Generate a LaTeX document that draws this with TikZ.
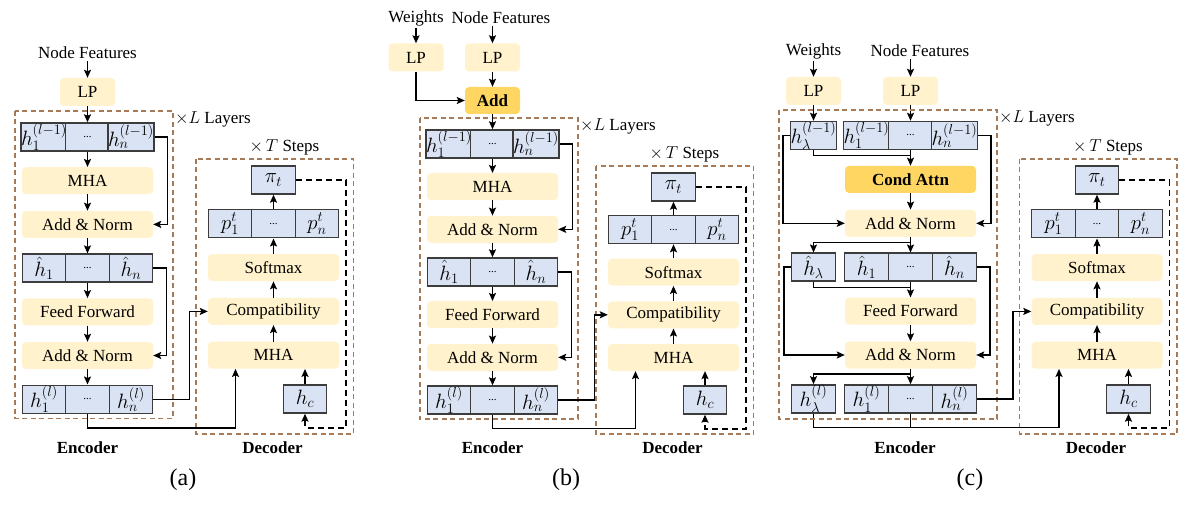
\documentclass[tikz,border=0pt]{standalone}
\usepackage{amsmath}
\usepackage{fontspec}
\setmainfont{Liberation Serif}
\usepackage{tikz}
\usetikzlibrary{calc}
\usetikzlibrary{arrows.meta}
\usetikzlibrary{positioning}
\definecolor{cellFill}{RGB}{218,227,243}
\definecolor{cellLine}{RGB}{60,60,60}
\definecolor{opFill}{RGB}{255,242,204}
\definecolor{keyFill}{RGB}{255,214,98}
\definecolor{frameCol}{RGB}{166,122,86}
\newcommand{\cellDots}{{\fontsize{11}{12}\selectfont ...}}
\tikzset{
    cellBox/.style={
        ,   draw=cellLine
        ,   fill=cellFill
        ,   line width=1.4pt
        ,   minimum width=43.5pt
        ,   minimum height=28pt
        ,   inner sep=0pt
        ,   font=\fontsize{19.5}{22}\selectfont
    },
    opBox/.style={
        ,   fill=opFill
        ,   rounded corners=4pt
        ,   minimum width=131pt
        ,   minimum height=27pt
        ,   inner sep=0pt
    },
    keyBox/.style={
        ,   opBox
        ,   fill=keyFill
        ,   font=\fontsize{17}{20}\selectfont\bfseries
    },
    lpBox/.style={
        ,   opBox
        ,   minimum width=55pt
        ,   minimum height=28pt
    },
    flow/.style={
        ,   line width=1.4pt
        ,   -{Stealth[length=8pt,width=7pt,inset=1.5pt]}
    },
    link/.style={line width=1.4pt},
    loopBack/.style={
        ,   flow
        ,   dash pattern=on 6pt off 4pt
        ,   line width=1.6pt
    },
    frameLine/.style={
        ,   draw=frameCol
        ,   line width=1.3pt
        ,   dash pattern=on 5pt off 3.5pt
    },
    stackLabel/.style={anchor=west, inner sep=1pt},
    partLabel/.style={font=\fontsize{17}{20}\selectfont\bfseries},
    capLabel/.style={font=\fontsize{24}{28}\selectfont},
}

\begin{document}
\begin{tikzpicture}[x=1pt, y=-1pt, inner sep=2pt, font=\fontsize{17}{20}\selectfont]
\useasboundingbox (0,0) rectangle (1192,505);

% encoders of (a) and (b)
\foreach \pan/\dx/\yy/\st in {a/0/137/43.7, b/405/144/42.67}{
  \foreach \row/\kk/\ta/\tb in {H/0/{$h_1^{(l-1)}$}/{$h_n^{(l-1)}$}, G/3/{$\hat{h}_1$}/{$\hat{h}_n$}, L/6/{$h_1^{(l)}$}/{$h_n^{(l)}$}}{
    \node[cellBox] (\pan\row 1) at (44+\dx,\yy+\kk*\st) {\ta};
    \node[cellBox] (\pan\row d) at (87.5+\dx,\yy+\kk*\st) {\cellDots};
    \node[cellBox] (\pan\row n) at (131+\dx,\yy+\kk*\st) {\tb};
  }
  \node[opBox] (\pan MHA) at (87.5+\dx,\yy+\st) {MHA};
  \node[opBox] (\pan ANa) at (87.5+\dx,\yy+2*\st) {Add \& Norm};
  \node[opBox] (\pan FF) at (87.5+\dx,\yy+4*\st) {Feed Forward};
  \node[opBox] (\pan ANb) at (87.5+\dx,\yy+5*\st) {Add \& Norm};
  \draw[flow] (\pan Hd) -- (\pan MHA);
  \draw[flow] (\pan MHA) -- (\pan ANa);
  \draw[flow] (\pan ANa) -- (\pan Gd);
  \draw[flow] (\pan Gd) -- (\pan FF);
  \draw[flow] (\pan FF) -- (\pan ANb);
  \draw[flow] (\pan ANb) -- (\pan Ld);
  \draw[flow] (\pan Hn.east) -- ++(13,0) |- (\pan ANa.east);
  \draw[flow] (\pan Gn.east) -- ++(13,0) |- (\pan ANb.east);
  \draw[frameLine] (15+\dx,\yy-26) rectangle (173+\dx,\yy+6*\st+19);
  \node[stackLabel] (\pan Lx) at (174+\dx,\yy-17.5) {$\times L$ Layers};
  \node[partLabel] (\pan Enc) at (87.5+\dx,448) {Encoder};
}

% inputs of (a)
\node (aNF) at (87.5,53) {Node Features};
\node[lpBox] (aLP) at (87.5,92) {LP};
\draw[flow] (aNF) -- (aLP);
\draw[flow] (aLP) -- (aHd);

% inputs of (b)
\node (bW) at (416,18) {Weights};
\node (bNF) at (501,18) {Node Features};
\node[lpBox] (bLPw) at (416,57.5) {LP};
\node[lpBox] (bLPn) at (492.5,57.5) {LP};
\node[keyBox, minimum width=55pt] (bAdd) at (492.5,100.5) {Add};
\draw[flow] (bW) -- (bLPw);
\draw[flow] (bNF.south -| bLPn.north) -- (bLPn);
\draw[flow] (bLPn) -- (bAdd);
\draw[flow] (bLPw) |- (bAdd);
\draw[flow] (bAdd) -- (bHd);

% encoder of (c), with the weight token h_lambda
\foreach \row/\kk/\tl/\ta/\tb in {H/0/{$h_\lambda^{(l-1)}$}/{$h_1^{(l-1)}$}/{$h_n^{(l-1)}$}, G/3/{$\hat{h}_\lambda$}/{$\hat{h}_1$}/{$\hat{h}_n$}, L/6/{$h_\lambda^{(l)}$}/{$h_1^{(l)}$}/{$h_n^{(l)}$}}{
  \node[cellBox] (c\row l) at (813.5,135.5+\kk*43.9) {\tl};
  \node[cellBox] (c\row 1) at (866.5,135.5+\kk*43.9) {\ta};
  \node[cellBox] (c\row d) at (910.5,135.5+\kk*43.9) {\cellDots};
  \node[cellBox] (c\row n) at (954.5,135.5+\kk*43.9) {\tb};
}
\node (cW) at (813.5,51) {Weights};
\node (cNF) at (920,51) {Node Features};
\node[lpBox] (cLPw) at (813.5,91) {LP};
\node[lpBox] (cLPn) at (910.5,91) {LP};
\node[keyBox] (cCA) at (910.5,179.4) {Cond Attn};
\node[opBox] (cANa) at (910.5,223.3) {Add \& Norm};
\node[opBox] (cFF) at (910.5,311.1) {Feed Forward};
\node[opBox] (cANb) at (910.5,355) {Add \& Norm};
\draw[flow] (cW) -- (cLPw);
\draw[flow] (cNF.south -| cLPn.north) -- (cLPn);
\draw[flow] (cLPw) -- (cHl);
\draw[flow] (cLPn) -- (cHd);
\draw[flow] (cHd) -- (cCA);
\draw[link] (cHl.south) |- ($(cHd.south)!0.35!(cCA.north)$);
\draw[flow] (cCA) -- (cANa);
\draw[flow] (cHl.west) -- ++(-7,0) |- (cANa.west);
\draw[flow] (cHn.east) -- ++(13,0) |- (cANa.east);
\draw[flow] (cANa) -- (cGd);
\draw[flow] ($(cANa.south)!0.35!(cGd.north)$) -| (cGl.north);
\draw[link] (cGl.south) |- ($(cGd.south)!0.35!(cFF.north)$);
\draw[flow] (cGd) -- (cFF);
\draw[flow] (cFF) -- (cANb);
\draw[flow] (cGl.west) -- ++(-7,0) |- (cANb.west);
\draw[flow] (cGn.east) -- ++(13,0) |- (cANb.east);
\draw[flow] (cANb) -- (cLd);
\draw[flow] ($(cANb.south)!0.35!(cLd.north)$) -| (cLl.north);
\draw[link] (cLl.south) |- ($(cLd.south)+(0,14)$);
\draw[frameLine] (779,110) rectangle (997,419);
\node[stackLabel] (cLx) at (998,118.5) {$\times L$ Layers};
\node[partLabel] (cEnc) at (905,448) {Encoder};

% decoders, the same in all three
\foreach \pan/\xx/\yy/\st in {a/273.5/180/43.8, b/673.5/187/42.6, c/1097/180/43.8}{
  \node[cellBox] (\pan Pi) at (\xx,\yy) {$\pi_t$};
  \node[cellBox] (\pan P1) at (\xx-43.5,\yy+\st) {$p_1^t$};
  \node[cellBox] (\pan Pd) at (\xx,\yy+\st) {\cellDots};
  \node[cellBox] (\pan Pn) at (\xx+43.5,\yy+\st) {$p_n^t$};
  \node[opBox] (\pan SM) at (\xx,\yy+2*\st) {Softmax};
  \node[opBox] (\pan CP) at (\xx,\yy+3*\st) {Compatibility};
  \node[opBox] (\pan DM) at (\xx,\yy+4*\st) {MHA};
  \node[cellBox] (\pan Hc) at (\xx+31.5,\yy+5*\st) {$h_c$};
  \draw[flow] (\pan Pd) -- (\pan Pi);
  \draw[flow] (\pan SM) -- (\pan Pd);
  \draw[flow] (\pan CP) -- (\pan SM);
  \draw[flow] (\pan DM) -- (\pan CP);
  \draw[flow] (\pan Hc) -- (\pan Hc |- \pan DM.south);
  \draw[loopBack] (\pan Pi.east) -- ++(50,0) |- ($(\pan Hc.south)+(0,14)$) -- (\pan Hc.south);
  \draw[frameLine] (\xx-77.5,\yy-21) rectangle (\xx+80,434);
  \node (\pan Tx) at (\xx+11,\yy-33) {$\times\,T$ Steps};
  \node[partLabel] (\pan Dec) at (\xx-1,448) {Decoder};
  \draw[flow] (\pan Ln.east) -- ++(36,0) |- (\pan CP.west);
  \draw[flow] (\pan Ld.south) -- ++(0,14) -| ($(\pan DM.south)+(-38,0)$);
}

\node[capLabel] (capA) at (183,480) {(a)};
\node[capLabel] (capB) at (566,480) {(b)};
\node[capLabel] (capC) at (970,480) {(c)};
\end{tikzpicture}
\end{document}
